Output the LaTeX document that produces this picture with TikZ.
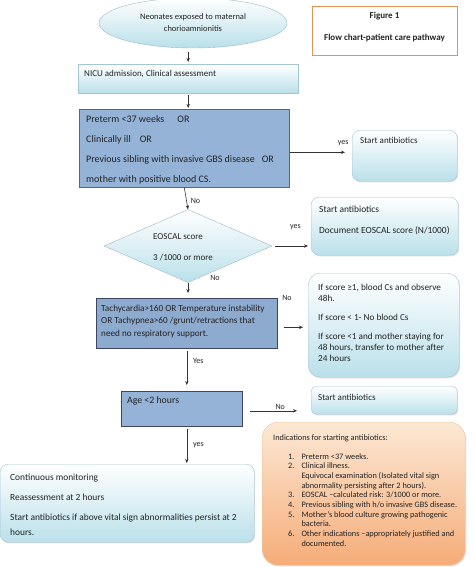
\documentclass[tikz,border=0pt]{standalone}
\usepackage{fontspec}
\setmainfont{Carlito}
\usetikzlibrary{arrows.meta,shapes.geometric,shadows,positioning}
\definecolor{TxtGray}{RGB}{35,35,35}
\definecolor{CyanLight}{RGB}{186,224,234}
\definecolor{CyanEdge}{RGB}{165,198,212}
\definecolor{SteelFill}{RGB}{149,179,215}
\definecolor{SteelDark}{RGB}{141,170,207}
\definecolor{BlueEdge}{RGB}{75,95,190}
\definecolor{NavyEdge}{RGB}{60,70,100}
\definecolor{PeachLight}{RGB}{252,232,212}
\definecolor{PeachDark}{RGB}{245,172,120}
\definecolor{PeachEdge}{RGB}{240,196,160}
\definecolor{FigEdge}{RGB}{230,145,85}

% lines of a box, baseline on the first line
\newcommand{\boxlines}[1]{\begin{tabular}[t]{@{}l@{}}#1\end{tabular}}
\newcommand{\fsz}[2]{\fontsize{#1}{#2}\selectfont}

\tikzset{
  box/.style={rectangle, inner sep=0pt, anchor=north west},
  softbox/.style={box, draw=CyanEdge, rounded corners=8pt, top color=white,
    bottom color=CyanLight, drop shadow={opacity=0.25, shadow xshift=1pt, shadow yshift=-1.2pt}},
  flatbox/.style={box, draw=CyanEdge, top color=white, bottom color=CyanLight,
    drop shadow={opacity=0.25, shadow xshift=1pt, shadow yshift=-1.2pt}},
  bluebox/.style={box, fill=SteelFill, draw=BlueEdge, line width=0.6pt},
  darkbox/.style={box, fill=SteelDark, draw=NavyEdge, line width=0.6pt},
  txt/.style={inner sep=0pt, anchor=base west, text=TxtGray, font=\fsz{9}{11}},
  lbl/.style={inner sep=0pt, text=TxtGray, font=\fsz{8}{10}},
  arr/.style={-{Stealth[length=4pt,width=3.4pt]}, draw=black!80, line width=0.6pt}
}

\begin{document}
\begin{tikzpicture}[x=1pt,y=-1pt]
  \useasboundingbox (0,0) rectangle (474,567);
  % start and title
  \node[ellipse, draw=CyanEdge!80!gray, top color=white, bottom color=CyanLight,
    minimum width=188, minimum height=50, align=center, text=TxtGray,
    font=\fsz{8.5}{12}] (ell) at (193,23)
    {Neonates exposed to maternal\\chorioamnionitis};
  \node[box, draw=FigEdge, line width=0.9pt, fill=white, minimum width=145,
    minimum height=49] (fig) at (312,6) {};
  \node[lbl, font=\fsz{9}{11}\bfseries] (figt) at (384.5,16) {Figure 1};
  \node[lbl, font=\fsz{9}{11}\bfseries] (figs) at (384.5,38) {Flow chart-patient care pathway};

  % main column
  \node[flatbox, minimum width=220, minimum height=29] (nicu) at (78,64) {};
  \node[txt] (nicut) at (84,77) {NICU admission, Clinical assessment};

  \node[bluebox, minimum width=210, minimum height=78] (pre) at (79,109) {};
  \node[txt, font=\fsz{10}{20}] (pret) at (86,122.5)
    {\boxlines{Preterm <37 weeks\hspace{13pt}OR\\
     Clinically ill\hspace{9pt}OR\\
     Previous sibling with invasive GBS disease\hspace{7pt}OR\\
     mother with positive blood CS.}};

  \node[diamond, draw=CyanEdge!80!gray, top color=white, bottom color=CyanLight,
    minimum width=168, minimum height=73, inner sep=0pt] (dia) at (188,246) {};
  \node[txt, font=\fsz{9}{21}] (diat) at (153,239)
    {\boxlines{EOSCAL score\\3 /1000 or more}};

  \node[darkbox, minimum width=181, minimum height=50] (tachy) at (96,298) {};
  \node[txt, font=\fsz{9.2}{12.5}] (tachyt) at (101,311)
    {\boxlines{Tachycardia>160 OR Temperature instability\\
     OR Tachypnea>60 /grunt/retractions that\\
     need no respiratory support.}};

  \node[darkbox, fill=SteelFill, minimum width=121, minimum height=35] (age) at (121,391) {};
  \node[txt, font=\fsz{9.8}{12}] (aget) at (127,403.5) {Age <2 hours};

  \node[softbox, minimum width=254, minimum height=78] (mon) at (0,464) {};
  \node[txt, font=\fsz{9.4}{15}] (mont) at (10,480)
    {\boxlines{Continuous monitoring\\[5pt]
     Reassessment at 2 hours\\[5pt]
     Start antibiotics if above vital sign abnormalities persist at 2\\
     hours.}};

  % right column
  \node[softbox, minimum width=105, minimum height=51] (sa1) at (352,130) {};
  \node[txt] (sa1t) at (360,143) {Start antibiotics};

  \node[softbox, minimum width=147, minimum height=58] (sa2) at (311,197) {};
  \node[txt, font=\fsz{9.4}{21}] (sa2t) at (319,212)
    {\boxlines{Start antibiotics\\Document EOSCAL score (N/1000)}};

  \node[softbox, rounded corners=12pt, minimum width=151, minimum height=104] (obs) at (308,273) {};
  \node[txt, font=\fsz{9.2}{11}] (obst) at (318,290)
    {\boxlines{If score ≥1, blood Cs and observe\\48h.\\[8pt]
     If score < 1- No blood Cs\\[8pt]
     If score <1 and mother staying for\\
     48 hours, transfer to mother after\\
     24 hours}};

  \node[softbox, rounded corners=5pt, minimum width=146, minimum height=28] (sa3) at (311,386) {};
  \node[txt] (sa3t) at (318,400) {Start antibiotics};

  \node[box, draw=PeachEdge, rounded corners=16pt, top color=PeachLight, bottom color=PeachDark,
    minimum width=203, minimum height=143,
    drop shadow={opacity=0.25, shadow xshift=1pt, shadow yshift=-1.2pt}] (ind) at (262,422) {};
  \node[txt, font=\fsz{8.3}{9.7}] (indt) at (273,440)
    {Indications for starting antibiotics:};
  \node[txt, font=\fsz{8.3}{9.7}] (indl) at (288,459)
    {\begin{tabular}[t]{@{}r@{\hspace{7pt}}l@{}}
     1. & Preterm <37 weeks.\\
     2. & Clinical illness.\\
        & Equivocal examination (Isolated vital sign\\
        & abnormality persisting after 2 hours).\\
     3. & EOSCAL --calculated risk: 3/1000 or more.\\
     4. & Previous sibling with h/o invasive GBS disease.\\
     5. & Mother's blood culture growing pathogenic\\
        & bacteria.\\
     6. & Other indications --appropriately justified and\\
        & documented.
     \end{tabular}};

  % connectors
  \draw[arr, shorten <=4pt, shorten >=2pt] (nicu.north |- ell.south) -- (nicu.north);
  \draw[arr, shorten <=2pt, shorten >=1pt] (nicu.south) -- (nicu.south |- pre.north);
  \draw[arr, shorten >=7pt] ([yshift=-4pt]pre.east) -- ([yshift=-4pt]pre.east -| sa1.west)
    node[lbl, pos=0.86, above=6pt] (y1) {yes};
  \draw[arr] (pre.south) -- (dia.north) node[lbl, pos=0.6, right=4pt] (n1) {No};
  \draw[arr, shorten <=3pt, shorten >=3pt] (dia.east) -- (dia.east -| sa2.west)
    node[lbl, pos=0.6, above=16pt] (y2) {yes};
  \draw[arr, shorten >=5pt] (dia.south) -- (dia.south |- tachy.north);
  \node[lbl] (n2) at (215,278) {No};
  \draw[arr, shorten <=6pt, shorten >=5pt] ([yshift=-4pt]tachy.east) -- ([yshift=-4pt]tachy.east -| obs.west);
  \node[lbl] (n3) at (287,298) {No};
  \draw[arr, shorten <=2pt, shorten >=6pt] (tachy.south) -- (tachy.south |- age.north)
    node[lbl, pos=0.3, right=6pt] (y3) {Yes};
  \draw[arr, shorten <=7pt, shorten >=14pt] ([yshift=-2pt]age.east) -- ([yshift=-2pt]age.east -| sa3.west)
    node[lbl, pos=0.55, above=1pt] (n4) {No};
  \draw[arr, shorten <=2pt, shorten >=1pt] (tachy.south |- age.south) -- (tachy.south |- mon.north)
    node[lbl, midway, right=6pt] (y4) {yes};
\end{tikzpicture}
\end{document}
